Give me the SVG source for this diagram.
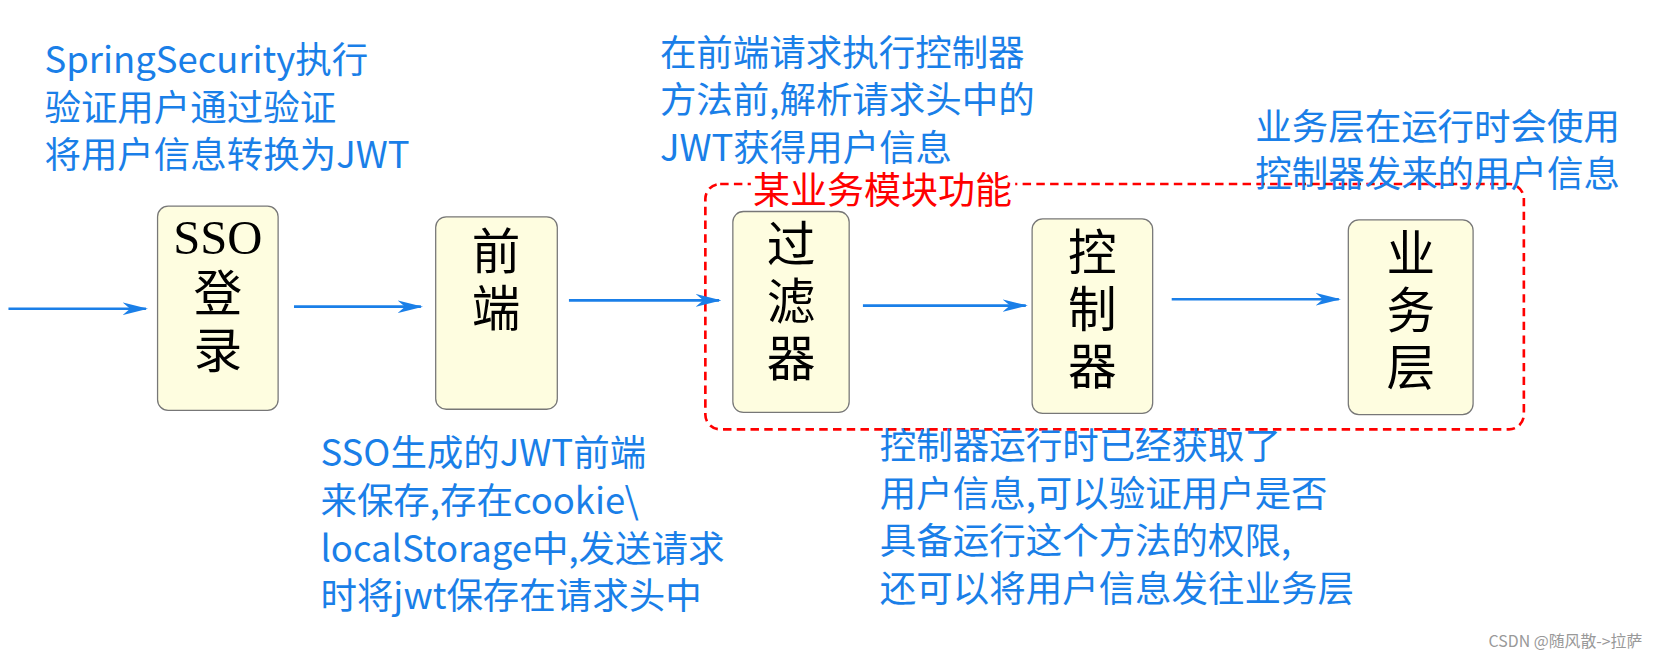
<svg xmlns="http://www.w3.org/2000/svg" width="1656" height="657" viewBox="0 0 1656 657">
<style>
.b{fill:#fefde0;stroke:#777;stroke-width:1.2}
.n{font-family:"Liberation Serif","Noto Sans CJK SC",serif;font-size:46px;fill:#000;text-anchor:middle}
.t{font-family:"Noto Sans CJK SC","Noto Sans",sans-serif;font-size:34.5px;fill:#1a7fe8}
.c line{stroke:#1a7fe8;stroke-width:2.5;marker-end:url(#a)}
</style>
<defs><marker id="a" markerWidth="24" markerHeight="14" refX="22" refY="7" orient="auto" markerUnits="userSpaceOnUse"><path d="M0,1 L24,7 L0,13 L7,7 Z" fill="#1a7fe8"/></marker></defs>
<rect width="1656" height="657" fill="#fff"/>
<g transform="scale(1.0575)">
<rect x="667" y="174" width="774" height="232" rx="14" fill="none" stroke="#f00" stroke-width="2.5" stroke-dasharray="8,5"/>
<g class="c">
<line x1="8" y1="292" x2="138" y2="292"/>
<line x1="278" y1="290" x2="398" y2="290"/>
<line x1="538" y1="284" x2="680" y2="284"/>
<line x1="816" y1="289" x2="970" y2="289"/>
<line x1="1108" y1="283" x2="1266" y2="283"/>
</g>
<g id="sso"><rect class="b" x="149" y="195" width="114" height="193" rx="10"/><text class="n" x="206" y="240" font-size="34">SSO</text><text class="n" x="206" y="294">登</text><text class="n" x="206" y="348">录</text></g>
<g id="qd"><rect class="b" x="412" y="205" width="115" height="182" rx="10"/><text class="n" x="469" y="254">前</text><text class="n" x="469" y="308">端</text></g>
<g id="gl"><rect class="b" x="693" y="200" width="110" height="190" rx="10"/><text class="n" x="748" y="248">过</text><text class="n" x="748" y="302">滤</text><text class="n" x="748" y="356">器</text></g>
<g id="kz"><rect class="b" x="976" y="207" width="114" height="184" rx="10"/><text class="n" x="1033" y="255">控</text><text class="n" x="1033" y="309">制</text><text class="n" x="1033" y="363">器</text></g>
<g id="yw"><rect class="b" x="1275" y="208" width="118" height="184" rx="10"/><text class="n" x="1334" y="256">业</text><text class="n" x="1334" y="310">务</text><text class="n" x="1334" y="364">层</text></g>
<rect x="710" y="160" width="250" height="36" fill="#fff"/>
<text x="712" y="193" font-family="Noto Sans CJK SC,sans-serif" font-size="35" fill="#f00">某业务模块功能</text>
<text class="t"><tspan x="42" y="69">SpringSecurity执行</tspan><tspan x="42" y="114">验证用户通过验证</tspan><tspan x="42" y="159">将用户信息转换为JWT</tspan></text>
<text class="t"><tspan x="624" y="62">在前端请求执行控制器</tspan><tspan x="624" y="107">方法前,解析请求头中的</tspan><tspan x="624" y="152">JWT获得用户信息</tspan></text>
<text class="t"><tspan x="1187" y="132">业务层在运行时会使用</tspan><tspan x="1187" y="177">控制器发来的用户信息</tspan></text>
<text class="t"><tspan x="303" y="441">SSO生成的JWT前端</tspan><tspan x="303" y="486">来保存,存在cookie\</tspan><tspan x="303" y="531">localStorage中,发送请求</tspan><tspan x="303" y="576">时将jwt保存在请求头中</tspan></text>
<text class="t"><tspan x="832" y="434">控制器运行时已经获取了</tspan><tspan x="832" y="479">用户信息,可以验证用户是否</tspan><tspan x="832" y="524">具备运行这个方法的权限,</tspan><tspan x="832" y="569">还可以将用户信息发往业务层</tspan></text>
<text x="1553" y="612" font-family="Noto Sans CJK SC,sans-serif" font-size="15" fill="#999" text-anchor="end">CSDN @随风散-&gt;拉萨</text>
</g>
</svg>
